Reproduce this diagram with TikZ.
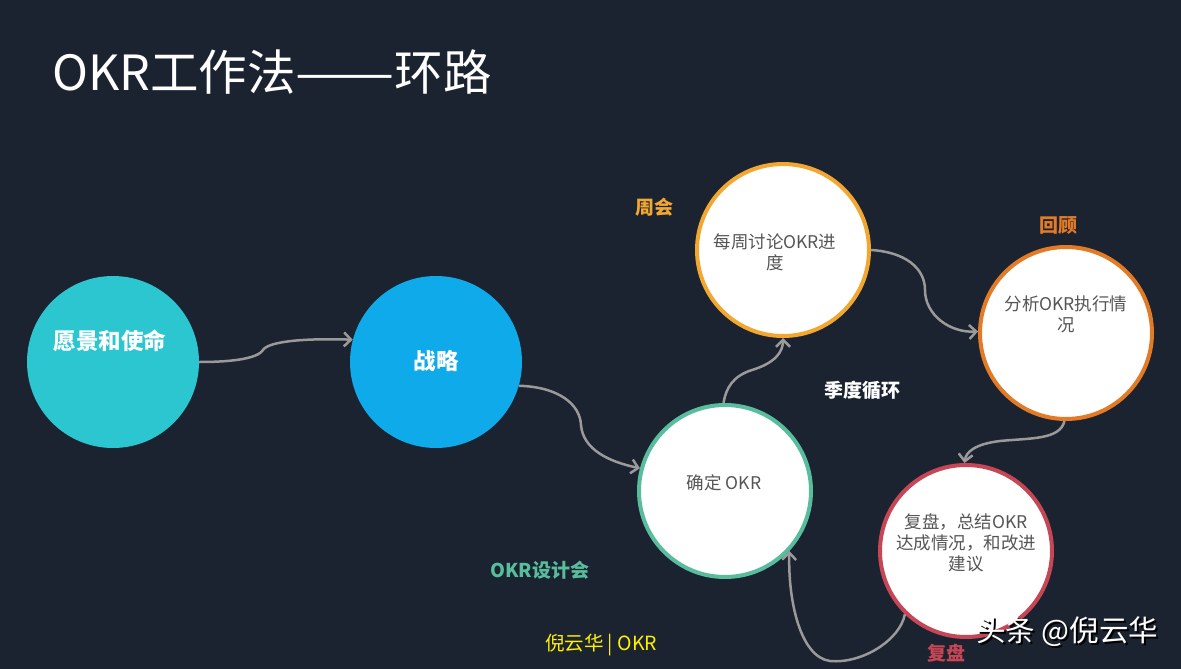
\documentclass[tikz,border=0pt]{standalone}
\usepackage{fontspec}
\setmainfont{Noto Sans CJK SC}
\usetikzlibrary{arrows.meta}
\definecolor{bg}{HTML}{1B2330}
\definecolor{cyanc}{HTML}{2BC6D0}
\definecolor{bluec}{HTML}{0FAAE9}
\definecolor{greenc}{HTML}{58BD9C}
\definecolor{yelc}{HTML}{F2A830}
\definecolor{orac}{HTML}{E27A26}
\definecolor{redc}{HTML}{C74655}
\definecolor{arrc}{HTML}{9A9A9A}
\definecolor{txtc}{HTML}{555555}
\definecolor{signc}{HTML}{FFF000}
\tikzset{
  bigcirc/.style={circle, minimum size=172pt, inner sep=0pt},
  filledc/.style={bigcirc, fill=#1},
  ringc/.style={bigcirc, fill=white, draw=#1, line width=4pt},
  intext/.style={text=txtc, font=\fontsize{17.5}{21}\selectfont, align=center, inner sep=0pt},
  whtext/.style={text=white, font=\fontsize{22.5}{25}\selectfont\bfseries, inner sep=0pt},
  tag/.style={text=#1, font=\fontsize{19}{22}\selectfont\bfseries, inner sep=0pt},
  conn/.style={draw=arrc, line width=2.5pt, -{Straight Barb[length=7pt,width=14pt]}},
}
\begin{document}
\begin{tikzpicture}[x=1pt,y=-1pt]
\fill[bg] (0,0) rectangle (1181,669);
\useasboundingbox (0,0) rectangle (1181,669);

\node[text=white, font=\fontsize{48.5}{52}\selectfont, anchor=base west, inner sep=0pt] (title) at (52,90) {OKR工作法\scalebox{1.22}[1]{——}环路};

\node[filledc=cyanc] (vis) at (113,362) {};
\node[filledc=bluec] (str) at (436,362) {};
\node[ringc=greenc] (okr) at (725,491) {};
\node[ringc=yelc] (week) at (783,250) {};
\node[ringc=orac] (ana) at (1066,333) {};
\node[ringc=redc] (fp) at (966,551) {};

\node[whtext] (tvis) at (110,341) {愿景和使命};
\node[whtext] (tstr) at (436,361) {战略};
\node[intext] (tokr) at (724,483) {确定 OKR};
\node[intext] (tweek) at (775,252) {每周讨论OKR进\\度};
\node[intext] (tana) at (1066,314) {分析OKR执行情\\况};
\node[intext] (tfp) at (966,543) {复盘，总结OKR\\达成情况，和改进\\建议};

\node[tag=yelc] (lweek) at (654,207) {周会};
\node[tag=orac] (lana) at (1058,226) {回顾};
\node[tag=white] (lq) at (862,390) {季度循环};
\node[tag=greenc] (lokr) at (540,570) {OKR设计会};
\node[tag=redc] (lfp) at (946,653) {复盘};
\node[text=signc, font=\fontsize{19.5}{22}\selectfont, inner sep=0pt] (sign) at (601,645) {倪云华 | OKR};

\node[text=black, font=\fontsize{29.5}{32}\selectfont, inner sep=0pt] (wms) at (1069,634) {头条 @倪云华};
\node[text=white, font=\fontsize{29.5}{32}\selectfont, inner sep=0pt] (wm) at (1067,632) {头条 @倪云华};

\draw[conn] (vis.east) .. controls (235,362) and (258,358) .. (263,350)
  .. controls (268,342) and (300,338) .. (str.165);
\draw[conn] (str.-16) .. controls (560,387) and (580,405) .. (581,425)
  .. controls (583,450) and (610,462) .. (okr.165);
\draw[conn] (okr.91) .. controls (726,388) and (733,376) .. (752,370)
  .. controls (775,363) and (783,352) .. (week.-90);
\draw[conn] (week.east) .. controls (905,252) and (925,268) .. (925,290)
  .. controls (925,315) and (950,333) .. (ana.179);
\draw[conn] (ana.-91) .. controls (1060,440) and (1030,438) .. (1000,441)
  .. controls (975,444) and (966,452) .. (fp.91);
\draw[conn] (fp.226) .. controls (900,640) and (862,664) .. (830,661)
  .. controls (800,657) and (788,600) .. (okr.-43);
\end{tikzpicture}
\end{document}
